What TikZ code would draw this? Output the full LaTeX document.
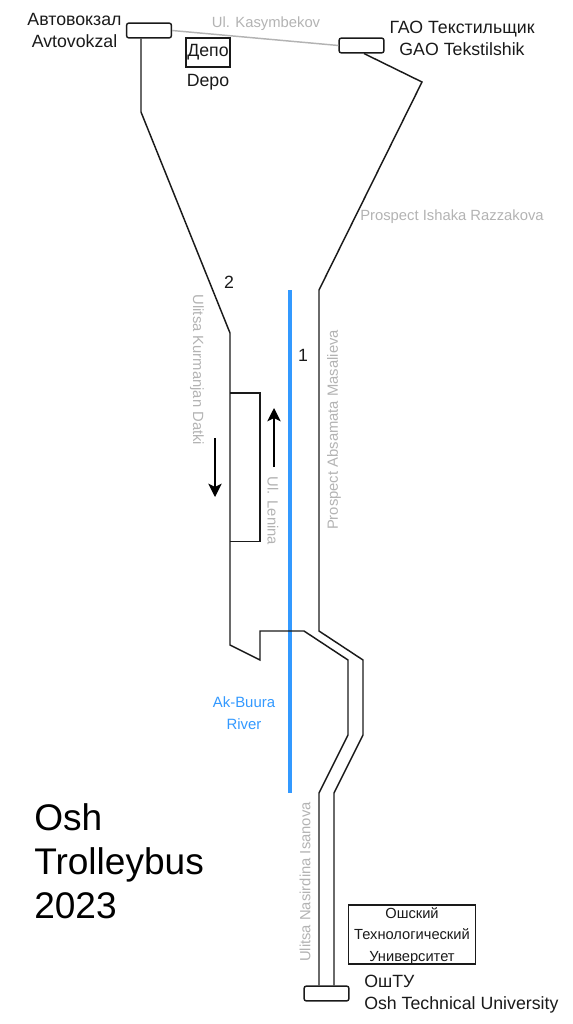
\documentclass[tikz,border=0pt]{standalone}
\usepackage{fontspec}
\setmainfont{Liberation Sans}
\usetikzlibrary{arrows.meta}
\definecolor{RouteLine}{HTML}{1A1A1A}
\definecolor{StreetGrey}{HTML}{B3B3B3}
\definecolor{RiverBlue}{HTML}{3399FF}
\tikzset{
  route/.style={draw=RouteLine,line width=1.1pt,line join=miter},
  terminal/.style={draw=RouteLine,line width=1.1pt,fill=white,rounded corners=1.5pt,minimum width=33.5pt,minimum height=11pt,inner sep=0pt},
  stoplabel/.style={align=center,inner sep=0pt,text=RouteLine,font=\fontsize{13.3}{16.5}\selectfont},
  street/.style={inner sep=0pt,text=StreetGrey,font=\fontsize{11.1}{12}\selectfont},
  flow/.style={draw=black,line width=1.1pt,-{Stealth[length=10pt,width=10pt,inset=2.5pt]}}
}
\begin{document}
\begin{tikzpicture}[x=0.75pt,y=-0.75pt]
    \useasboundingbox (0,0) rectangle (573,1024);
    % river
    \coordinate (riverN) at (289.5,290);
    \coordinate (riverS) at (289.5,793);
    \draw[RiverBlue,line width=3pt] (riverN) -- (riverS);
    \node[stoplabel,text=RiverBlue,font=\fontsize{11.2}{16.5}\selectfont] (river) at (244,713) {Ak-Buura\\River};

    % terminals
    \node[terminal] (avto) at (149,30.5) {};
    \node[terminal] (gao) at (361.5,45.5) {};
    \node[terminal] (oshtu) at (326.5,993.5) {};
    \draw[StreetGrey,line width=1.1pt] (avto.east) -- (gao.west);

    % trunk, west side
    \coordinate (w1) at (141,112);
    \coordinate (w2) at (230,333);
    \coordinate (w3) at (230,645);
    \coordinate (w4) at (260,660);
    \coordinate (w5) at (260,631);
    \coordinate (w6) at (304,631);
    \coordinate (w7) at (348,660);
    \coordinate (w8) at (348,735);
    \coordinate (w9) at (319,793);
    \draw[route] (avto.south -| w1) -- (w1) -- (w2) -- (w3) -- (w4) -- (w5) -- (w6) -- (w7) -- (w8) -- (w9) -- (w9 |- oshtu.north);

    % trunk, east side
    \coordinate (e1) at (422,82);
    \coordinate (e2) at (319,290);
    \coordinate (e3) at (319,631);
    \coordinate (e4) at (363,660);
    \coordinate (e5) at (363,735);
    \coordinate (e6) at (334,793);
    \draw[route] ([xshift=1.9pt]gao.south) -- (e1) -- (e2) -- (e3) -- (e4) -- (e5) -- (e6) -- (e6 |- oshtu.north);

    % one way loop on Lenina
    \coordinate (l1) at (230,393);
    \coordinate (l2) at (260,393);
    \coordinate (l3) at (260,541.5);
    \coordinate (l4) at (230,541.5);
    \draw[route] (l1) -- (l2) -- (l3) -- (l4);

    \coordinate (upA) at (274,467);
    \coordinate (upB) at (274,408);
    \coordinate (downA) at (215,438);
    \coordinate (downB) at (215,497);
    \draw[flow] (upA) -- (upB);
    \draw[flow] (downA) -- (downB);

    % stops
    \node[stoplabel] (avtolab) at (74.5,30) {Автовокзал\\Avtovokzal};
    \node[stoplabel] (gaolab) at (462,38) {ГАО Текстильщик\\GAO Tekstilshik};
    \node[stoplabel,align=left,anchor=west] (oshtulab) at (364,994) {ОшТУ\\Osh Technical University};

    \node[draw=RouteLine,line width=1.1pt,minimum width=33pt,minimum height=21.5pt,inner sep=0pt,text=RouteLine,font=\fontsize{13.3}{14}\selectfont] (depot) at (208,52.5) {Депо};
    \node[stoplabel] (depotlab) at (208,82.5) {Depo};

    \node[draw=RouteLine,line width=1.1pt,minimum width=95.5pt,minimum height=44pt,inner sep=0pt] (uni) at (412,934.5) {};
    \node[inner sep=0pt,align=center,text=RouteLine,font=\fontsize{11}{16.2}\selectfont] (unilab) at (412,936) {Ошский\\Технологический\\Университет};

    % streets
    \node[street] (kasym) at (266,24) {Ul. Kasymbekov};
    \node[street] (ishak) at (452,216.5) {Prospect Ishaka Razzakova};
    \node[street,rotate=-90] (kurman) at (197,370) {Ulitsa Kurmanjan Datki};
    \node[street,rotate=90] (absam) at (334,430) {Prospect Absamata Masalieva};
    \node[street,rotate=-90] (lenin) at (273,511) {Ul. Lenina};
    \node[street,rotate=90] (isanov) at (305,882) {Ulitsa Nasirdina Isanova};

    % route numbers
    \node[stoplabel] (routeA) at (303,355) {1};
    \node[stoplabel] (routeB) at (229,282) {2};

    \node[anchor=north west,inner sep=0pt,align=left,text=black,font=\fontsize{27.8}{33}\selectfont] (title) at (34,803) {Osh\\Trolleybus\\2023};
  \end{tikzpicture}
\end{document}
